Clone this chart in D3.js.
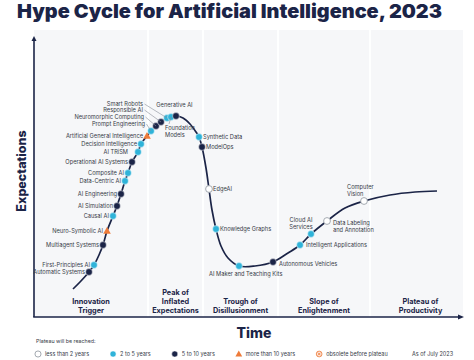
<!DOCTYPE html>
<html><head><meta charset="utf-8">
<script src="https://cdn.jsdelivr.net/npm/d3@7"></script>
<style>body{margin:0;background:#fff;} svg{display:block;font-family:Inter,"Noto Sans",sans-serif;}</style>
</head><body><svg id="c" width="474" height="360"></svg>
<script>
// ---------- DATA ----------
const title = "Hype Cycle for Artificial Intelligence, 2023";
const yAxisTitle = "Expectations";
const xAxisTitle = "Time";
// hype curve (time units, expectation units)
const curveTime = [39,46,55,60,65,69,73,79,83,87,91,94,98,104,107,113,117,122,127,133,137,142,149,156,162,165,168,172,175,178,182,187,194,205,221,239,254,266,277,293,311,330,356,381,403];
const curveExp  = [28,35,45,52,62,72,86,101,111,123,136,144,155,165,173,181,186,191,195,199,200,201,199,193,185,180,170,149,128,107,88,71,59,51,51,55,64,72,83,96,109,116,122,125,126];
// technologies
const techNames = ["Automatic Systems","First-Principles AI","Multiagent Systems","Neuro-Symbolic AI","Causal AI","AI Simulation","AI Engineering","Data-Centric AI","Composite AI","Operational AI Systems","AI TRiSM","Decision Intelligence","Artificial General Intelligence","Prompt Engineering","Neuromorphic Computing","Responsible AI","Smart Robots","Foundation Models","Generative AI","Synthetic Data","ModelOps","EdgeAI","Knowledge Graphs","AI Maker and Teaching Kits","Autonomous Vehicles","Intelligent Applications","Cloud AI Services","Data Labeling and Annotation","Computer Vision"];
const techTime = [55,60,69,73,79,83,87,91,94,98,104,107,113,117,122,127,133,137,142,165,168,175,182,205,239,266,277,293,330];
const techExp  = [45,52,72,86,101,111,123,136,144,155,165,173,181,186,191,195,199,200,201,180,170,128,88,51,55,72,83,96,116];
const techPlateau = ["5-10","2-5","5-10",">10","2-5","5-10","5-10","2-5","2-5","5-10","2-5","2-5",">10","2-5","5-10","5-10","2-5","2-5","5-10","2-5","5-10","<2","2-5","2-5","5-10","2-5","2-5","<2","<2"];
// phases
const phaseNames = [["Innovation","Trigger"],["Peak of","Inflated","Expectations"],["Trough of","Disillusionment"],["Slope of","Enlightenment"],["Plateau of","Productivity"]];
const phaseBounds = [0,114,169,244,336,437];
// legend
const legendTitle = "Plateau will be reached:";
const legendKeys = ["<2","2-5","5-10",">10","obs"];
const legendLabels = ["less than 2 years","2 to 5 years","5 to 10 years","more than 10 years","obsolete before plateau"];
const asOf = "As of July 2023";

// ---------- STYLE / LAYOUT ----------
const NAVY="#1b2447", CYAN="#2fb3d9", ORANGE="#ee7b3a", HOLLOW="#9aa0a8", TXT="#363b47";
const svg = d3.select("#c");
const x = d3.scaleLinear().domain([0,429]).range([34,463]);
const y = d3.scaleLinear().domain([0,280]).range([317,37]);

// background panel
svg.append("rect").attr("x",x(0)).attr("y",30).attr("width",x(429)-x(0)).attr("height",y(0)-30).attr("fill","#f6f7f9");
phaseBounds.slice(1,-1).forEach(b=>{
  svg.append("line").attr("x1",x(b)).attr("x2",x(b)).attr("y1",30).attr("y2",y(0)).attr("stroke","#ffffff").attr("stroke-width",1.8);
});

// title
svg.append("text").attr("x",17).attr("y",17.5).attr("font-size",19).attr("font-weight",900)
  .attr("fill",NAVY).attr("textLength",425).attr("lengthAdjust","spacingAndGlyphs").text(title);

// phase labels
phaseNames.forEach((lines,i)=>{
  const cx = (x(phaseBounds[i])+x(phaseBounds[i+1]))/2;
  const t = svg.append("text").attr("text-anchor","middle").attr("font-size",7.3).attr("font-weight",700).attr("fill",NAVY);
  lines.forEach((l,j)=>{
    t.append("tspan").attr("x",cx).attr("y",312.5-(lines.length-1-j)*9).text(l);
  });
});

// axes
const axisG = svg.append("g");
axisG.append("line").attr("x1",x(0)).attr("x2",x(0)).attr("y1",y(0)).attr("y2",y(280)+2).attr("stroke",NAVY).attr("stroke-width",1.6);
axisG.append("line").attr("x1",x(0)-0.8).attr("x2",x(429)-2).attr("y1",y(0)).attr("y2",y(0)).attr("stroke",NAVY).attr("stroke-width",1.6);
axisG.append("path").attr("d",`M${x(0)-2.5},${y(280)+4} L${x(0)},${y(280)-1} L${x(0)+2.5},${y(280)+4} Z`).attr("fill",NAVY);
axisG.append("path").attr("d",`M${x(429)-5},${y(0)-2.5} L${x(429)+1},${y(0)} L${x(429)-5},${y(0)+2.5} Z`).attr("fill",NAVY);

svg.append("text").attr("transform","translate(25.5,171) rotate(-90)").attr("text-anchor","middle")
  .attr("font-size",12.5).attr("font-weight",800).attr("fill",NAVY).text(yAxisTitle);
svg.append("text").attr("x",254).attr("y",337.5).attr("text-anchor","middle")
  .attr("font-size",14).attr("font-weight",800).attr("fill",NAVY).text(xAxisTitle);

// curve
const line = d3.line().x(d=>x(d[0])).y(d=>y(d[1])).curve(d3.curveCatmullRom.alpha(0.5));
svg.append("path").datum(curveTime.map((t,i)=>[t,curveExp[i]])).attr("d",line)
  .attr("fill","none").attr("stroke",NAVY).attr("stroke-width",1.7);

// symbols
function drawSymbol(g,key,cx,cy,s){
  s = s||1;
  if(key===">10"){
    g.append("path").attr("d",`M${cx},${cy-4*s} L${cx+3.8*s},${cy+2.8*s} L${cx-3.8*s},${cy+2.8*s} Z`).attr("fill",ORANGE);
  } else if(key==="obs"){
    g.append("circle").attr("cx",cx).attr("cy",cy).attr("r",3.2*s).attr("fill","#fde3d6").attr("stroke",ORANGE).attr("stroke-width",0.8);
    g.append("path").attr("d",`M${cx-1.5*s},${cy-1.5*s}L${cx+1.5*s},${cy+1.5*s}M${cx+1.5*s},${cy-1.5*s}L${cx-1.5*s},${cy+1.5*s}`).attr("stroke",ORANGE).attr("stroke-width",0.8);
  } else {
    const fill = key==="<2"?"#ffffff":key==="2-5"?CYAN:NAVY;
    g.append("circle").attr("cx",cx).attr("cy",cy).attr("r",3.4*s).attr("fill",fill)
      .attr("stroke",key==="<2"?HOLLOW:"#ffffff").attr("stroke-width",key==="<2"?0.9:0.5);
  }
}

// label placement (layout only)
const labelLayout = {
  "AI TRiSM":{dx:-10},
  "Prompt Engineering":{dx:-6,dy:-7,leader:true},
  "Neuromorphic Computing":{dx:-12,dy:-9,leader:true},
  "Responsible AI":{dx:-18,dy:-12,leader:true},
  "Smart Robots":{dx:-24,dy:-14,leader:true},
  "Foundation Models":{dx:-6,dy:11,anchor:"start",lines:["Foundation","Models"],leader:true},
  "Generative AI":{dx:-1.5,dy:-11,anchor:"middle"},
  "Synthetic Data":{dx:4,anchor:"start"},
  "ModelOps":{dx:4,anchor:"start"},
  "EdgeAI":{dx:4,anchor:"start"},
  "Knowledge Graphs":{dx:4,anchor:"start"},
  "AI Maker and Teaching Kits":{dx:-30,dy:8,anchor:"start"},
  "Autonomous Vehicles":{dx:6,dy:2,anchor:"start"},
  "Intelligent Applications":{dx:6,anchor:"start"},
  "Cloud AI Services":{dx:-10,dy:-14,anchor:"middle",lines:["Cloud AI","Services"]},
  "Data Labeling and Annotation":{dx:6,dy:2,anchor:"start",lines:["Data Labeling","and Annotation"]},
  "Computer Vision":{dx:-17,dy:-14,anchor:"start",lines:["Computer","Vision"]}
};

const techG = svg.append("g");
const labelG = svg.append("g").attr("font-size",5.7).attr("fill",TXT);
techNames.forEach((name,i)=>{
  const cx = x(techTime[i]), cy = y(techExp[i]);
  const L = Object.assign({dx:-4,dy:0,anchor:"end"},labelLayout[name]||{});
  const lines = L.lines||[name];
  const tx = cx+L.dx, ty = cy+L.dy;
  if(L.leader){
    let lx = L.anchor==="end"? tx+1.5 : tx+4;
    let ly = L.anchor==="end"? ty : ty-4;
    labelG.append("line").attr("x1",lx).attr("y1",ly).attr("x2",cx).attr("y2",cy)
      .attr("stroke","#8a8f99").attr("stroke-width",0.6);
  }
  const t = labelG.append("text").attr("text-anchor",L.anchor);
  lines.forEach((l,j)=>t.append("tspan").attr("x",tx).attr("y",ty+j*7).attr("dy","0.35em").text(l));
});
techNames.forEach((name,i)=>drawSymbol(techG,techPlateau[i],x(techTime[i]),y(techExp[i])));

// legend
svg.append("text").attr("x",36).attr("y",343).attr("font-size",5.3).attr("fill",TXT).text(legendTitle);
let lx = 38;
const legG = svg.append("g");
legendKeys.forEach((k,i)=>{
  drawSymbol(legG,k,lx,354,0.9);
  const t = legG.append("text").attr("x",lx+7).attr("y",354).attr("dy","0.35em").attr("font-size",5.5).attr("fill",TXT).text(legendLabels[i]);
  lx = lx+7+t.node().getComputedTextLength()+24;
});
svg.append("text").attr("x",412).attr("y",354).attr("dy","0.35em").attr("font-size",5.5).attr("fill",TXT).text(asOf);
</script></body></html>
